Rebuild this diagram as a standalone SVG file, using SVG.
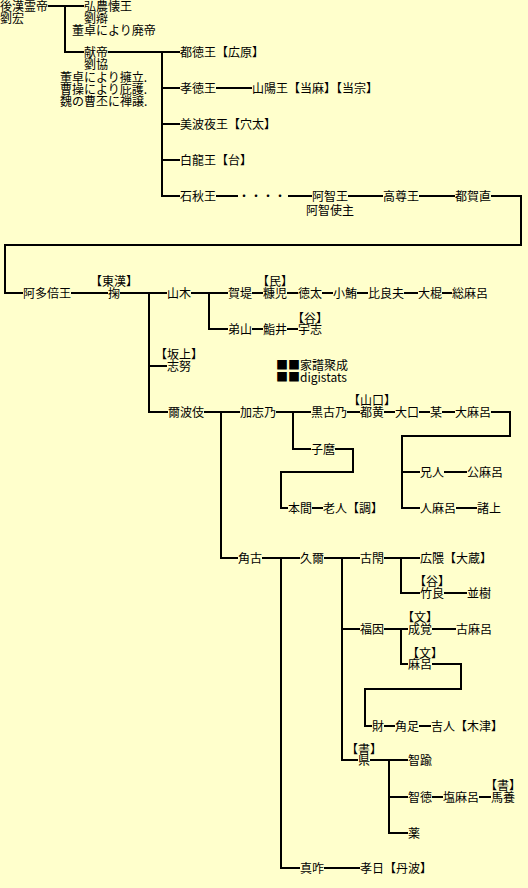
<svg xmlns="http://www.w3.org/2000/svg" width="528" height="888" viewBox="0 0 528 888">
<style>
text { font-family: "Noto Sans CJK JP", "Noto Sans CJK SC", sans-serif; font-size: 12px; fill: #000; }
.c { fill: none; stroke: #000; stroke-width: 2; }
</style>
<rect x="0" y="0" width="528" height="888" fill="#FFFFCC"/>
<g id="connectors" class="c">
<path d="M48,6H84"/>
<path d="M65,6V52H84"/>
<path d="M108,52H180"/>
<path d="M162,52V196H180M162,88H180M162,124H180M162,160H180"/>
<path d="M216,88H252"/>
<path d="M216,196H238"/>
<path d="M288,196H312"/>
<path d="M348,196H383"/>
<path d="M419,196H455"/>
<path d="M491,196H521V245H5V293H23"/>
<path d="M71,293H108"/>
<path d="M120,293H167"/>
<path d="M149,293V412H168M149,366H167"/>
<path d="M191,293H228M209,293V329H228"/>
<path d="M252,293H263M287,293H298M322,293H333M357,293H368M404,293H418M442,293H452"/>
<path d="M252,329H263M287,329H298"/>
<path d="M204,412H240M221,412V558H238"/>
<path d="M276,412H311M293,412V449H311"/>
<path d="M347,412H360M384,412H395M419,412H430M442,412H455"/>
<path d="M491,412H510V436H402V508H420M402,472H420"/>
<path d="M444,472H467M456,508H477"/>
<path d="M335,449H353V472H281V508H288"/>
<path d="M312,508H323"/>
<path d="M262,558H300M281,558V868H300"/>
<path d="M324,558H360M342,558V760H358M342,629H360"/>
<path d="M384,558H420M401,558V593H420"/>
<path d="M444,593H467"/>
<path d="M384,629H408M401,629V664H408"/>
<path d="M432,629H456"/>
<path d="M432,664H461V689H365V726H372"/>
<path d="M384,726H395M419,726H431"/>
<path d="M370,760H408M389,760V833H408M389,797H408"/>
<path d="M432,797H443M479,797H491"/>
<path d="M324,868H360"/>
</g>
<g id="n-reitei"><text x="0" y="10.5">後漢霊帝</text><text x="0" y="22.5">劉宏</text></g>
<g id="n-kobun"><text x="84" y="10.5">弘農懐王</text><text x="84" y="22.5">劉辯</text><text x="72" y="34.5">董卓により廃帝</text></g>
<g id="n-kentei"><text x="84" y="56.5">献帝</text><text x="84" y="68.5">劉協</text><text x="60" y="82">董卓により擁立.</text><text x="60" y="94">曹操により庇護.</text><text x="60" y="106">魏の曹丕に禅譲.</text></g>
<g id="n-totoku"><text x="180" y="56.5">都徳王【広原】</text></g>
<g id="n-kotoku"><text x="180" y="92.5">孝徳王</text></g>
<g id="n-sanyo"><text x="252" y="92.5">山陽王【当麻】【当宗】</text></g>
<g id="n-mihaya"><text x="180" y="128.5">美波夜王【穴太】</text></g>
<g id="n-hakuryu"><text x="180" y="164.5">白龍王【台】</text></g>
<g id="n-sekishu"><text x="180" y="200.5">石秋王</text></g>
<g id="n-dots"><text x="238" y="200.5">・・・・</text></g>
<g id="n-achi"><text x="312" y="200.5">阿智王</text><text x="306" y="214.5">阿智使主</text></g>
<g id="n-kouson"><text x="383" y="200.5">高尊王</text></g>
<g id="n-tsuga"><text x="455" y="200.5">都賀直</text></g>
<g id="n-atabe"><text x="23" y="297.5">阿多倍王</text></g>
<g id="n-kiku"><text x="90" y="285.5">【東漢】</text><text x="108" y="297.5">掬</text></g>
<g id="n-yamaki"><text x="167" y="297.5">山木</text></g>
<g id="n-kate"><text x="228" y="297.5">賀堤</text></g>
<g id="n-nukako"><text x="257" y="285.5">【民】</text><text x="263" y="297.5">糠児</text></g>
<g id="n-tokuta"><text x="298" y="297.5">徳太</text></g>
<g id="n-oshibi"><text x="333" y="297.5">小鮪</text></g>
<g id="n-hirabu"><text x="368" y="297.5">比良夫</text></g>
<g id="n-okon"><text x="418" y="297.5">大棍</text></g>
<g id="n-fusamaro"><text x="452" y="297.5">総麻呂</text></g>
<g id="n-otoyama"><text x="228" y="333.5">弟山</text></g>
<g id="n-sushii"><text x="263" y="333.5">鮨井</text></g>
<g id="n-ushi"><text x="292" y="322.5">【谷】</text><text x="298" y="333.5">宇志</text></g>
<g id="n-shinu"><text x="155" y="358.5">【坂上】</text><text x="167" y="370.5">志努</text></g>
<g id="legend"><text x="276" y="369.5">■■家譜聚成</text><text x="276" y="381.5">■■digistats</text></g>
<g id="n-nihaki"><text x="168" y="416.5">爾波伎</text></g>
<g id="n-kashino"><text x="240" y="416.5">加志乃</text></g>
<g id="n-kurokono"><text x="311" y="416.5">黒古乃</text></g>
<g id="n-tsuki"><text x="348" y="404.5">【山口】</text><text x="360" y="416.5">都黄</text></g>
<g id="n-ookuchi"><text x="395" y="416.5">大口</text></g>
<g id="n-bou"><text x="430" y="416.5">某</text></g>
<g id="n-oomaro"><text x="455" y="416.5">大麻呂</text></g>
<g id="n-komaro"><text x="311" y="453.5">子麿</text></g>
<g id="n-homma"><text x="288" y="512.5">本間</text></g>
<g id="n-oibito"><text x="323" y="512.5">老人【調】</text></g>
<g id="n-ehito"><text x="420" y="476.5">兄人</text></g>
<g id="n-kimimaro"><text x="467" y="476.5">公麻呂</text></g>
<g id="n-hitomaro"><text x="420" y="512.5">人麻呂</text></g>
<g id="n-morokami"><text x="477" y="512.5">諸上</text></g>
<g id="n-tsunoko"><text x="238" y="562.5">角古</text></g>
<g id="n-kuni"><text x="300" y="562.5">久爾</text></g>
<g id="n-kohe"><text x="360" y="562.5">古閇</text></g>
<g id="n-hirokuma"><text x="420" y="562.5">広隈【大蔵】</text></g>
<g id="n-takera"><text x="414" y="585.5">【谷】</text><text x="420" y="597.5">竹良</text></g>
<g id="n-namiki"><text x="467" y="597.5">並樹</text></g>
<g id="n-fukuin"><text x="360" y="633.5">福因</text></g>
<g id="n-jokaku"><text x="402" y="621.5">【文】</text><text x="408" y="633.5">成覚</text></g>
<g id="n-komaro2"><text x="456" y="633.5">古麻呂</text></g>
<g id="n-maro"><text x="407" y="657.5">【文】</text><text x="408" y="668.5">麻呂</text></g>
<g id="n-takara"><text x="372" y="730.5">財</text></g>
<g id="n-tsunotari"><text x="395" y="730.5">角足</text></g>
<g id="n-yoshihito"><text x="431" y="730.5">吉人【木津】</text></g>
<g id="n-agata"><text x="346" y="753.5">【書】</text><text x="358" y="764.5">県</text></g>
<g id="n-chiyu"><text x="408" y="764.5">智踰</text></g>
<g id="n-chitoku"><text x="408" y="801.5">智徳</text></g>
<g id="n-shiomaro"><text x="443" y="801.5">塩麻呂</text></g>
<g id="n-umakai"><text x="485" y="789.5">【書】</text><text x="491" y="801.5">馬養</text></g>
<g id="n-kusuri"><text x="408" y="837.5">薬</text></g>
<g id="n-makui"><text x="300" y="872.5">真咋</text></g>
<g id="n-takahi"><text x="360" y="872.5">孝日【丹波】</text></g>
</svg>
